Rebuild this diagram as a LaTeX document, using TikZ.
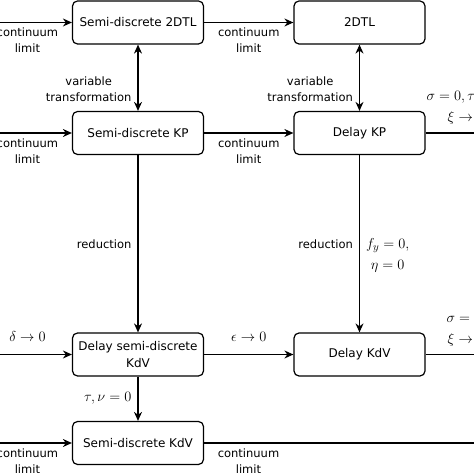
\documentclass[tikz,border=0pt]{standalone}
\usepackage{fontspec}
\setmainfont{DejaVu Sans}
\usetikzlibrary{arrows.meta}

\begin{document}
\begin{tikzpicture}[x=1pt, y=1pt, line width=1.2pt, line join=round, >={Stealth[length=9pt,width=8pt]},
    model/.style={draw, rounded corners=5pt, minimum width=131pt, minimum height=43pt, align=center, font=\fontsize{12}{17}\selectfont},
    lab/.style={align=center, font=\fontsize{11.5}{16}\selectfont, inner xsep=6pt, inner ysep=2pt},
    mlab/.style={align=center, font=\fontsize{15.5}{21}\selectfont, inner xsep=6pt, inner ysep=2pt}]
    \useasboundingbox (0,0) rectangle (474,474);
    \clip (0,0) rectangle (474,474);
    % the models
    \node[model] (sd2dtl) at (138,451.5) {Semi-discrete 2DTL};
    \node[model] (tdtl) at (359.5,451.5) {2DTL};
    \node[model] (sdkp) at (138,341) {Semi-discrete KP};
    \node[model] (dkp) at (359.5,341) {Delay KP};
    \node[model] (dsdkdv) at (138,119.5) {Delay semi-discrete\\KdV};
    \node[model] (dkdv) at (359.5,119.5) {Delay KdV};
    \node[model] (sdkdv) at (138,31) {Semi-discrete KdV};
    % free ends outside the frame
    \coordinate (in1) at (-17,451.5);
    \coordinate (in2) at (-17,341);
    \coordinate (in3) at (-17,119.5);
    \coordinate (in4) at (-17,31);
    \coordinate (out2) at (506,341);
    \coordinate (out3) at (506,119.5);
    \coordinate (out4) at (506,31);
    % horizontal
    \draw[->] (in1) -- (sd2dtl) node[midway, below=3pt, lab]{continuum\\limit};
    \draw[->] (sd2dtl) -- (tdtl) node[midway, below=3pt, lab]{continuum\\limit};
    \draw[->] (in2) -- (sdkp) node[midway, below=3pt, lab]{continuum\\limit};
    \draw[->] (sdkp) -- (dkp) node[midway, below=3pt, lab]{continuum\\limit};
    \draw[->] (dkp) -- (out2) node[midway, above=6pt, mlab]{$\sigma=0,\tau=0,$\\$\xi\to0$};
    \draw[->] (in3) -- (dsdkdv) node[midway, above=10pt, mlab]{$\delta\to0$};
    \draw[->] (dsdkdv) -- (dkdv) node[midway, above=10pt, mlab]{$\epsilon\to0$};
    \draw[->] (dkdv) -- (out3) node[midway, above=6pt, mlab]{$\sigma=0,$\\$\xi\to0$};
    \draw[->] (in4) -- (sdkdv) node[midway, below=3pt, lab]{continuum\\limit};
    \draw[->] (sdkdv) -- (out4) node[pos=0.147, below=3pt, lab]{continuum\\limit};
    % vertical
    \draw[<->] (sd2dtl) -- (sdkp) node[pos=0.67, left, lab]{variable\\transformation};
    \draw[<->] (tdtl) -- (dkp) node[pos=0.67, left, lab]{variable\\transformation};
    \draw[->] (sdkp) -- (dsdkdv) node[midway, left, lab]{reduction};
    \draw[->] (dkp) -- (dkdv) node[midway, left, lab]{reduction}
        node[pos=0.565, right, mlab]{$f_y=0,$\\$\eta=0$};
    \draw[->] (dsdkdv) -- (sdkdv) node[midway, left, mlab]{$\tau,\nu=0$};
\end{tikzpicture}
\end{document}
